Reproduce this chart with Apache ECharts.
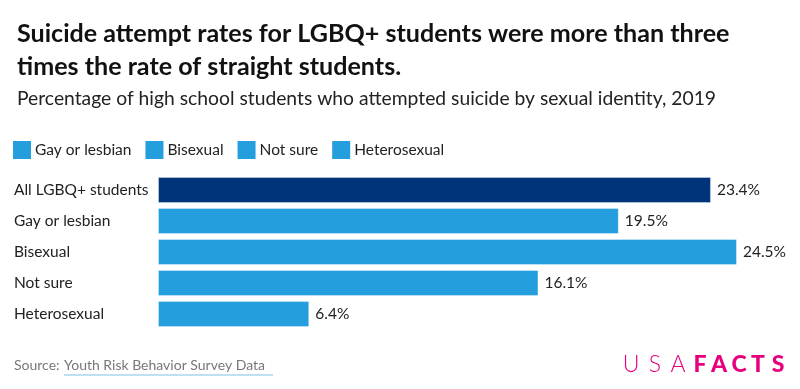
<!DOCTYPE html>
<html><head><meta charset="utf-8">
<script src="https://cdn.jsdelivr.net/npm/echarts@6/dist/echarts.min.js"></script>
<style>html,body{margin:0;padding:0;background:#fff}#c{width:800px;height:389px}</style>
</head><body><div id="c"></div>
<script>
const categories = ["All LGBQ+ students", "Gay or lesbian", "Bisexual", "Not sure", "Heterosexual"];
const values = [23.4, 19.5, 24.5, 16.1, 6.4];
const legendNames = ["Gay or lesbian", "Bisexual", "Not sure", "Heterosexual"];
const titleText = "Suicide attempt rates for LGBQ+ students were more than three\ntimes the rate of straight students.";
const subtitleText = "Percentage of high school students who attempted suicide by sexual identity, 2019";
const FONT = "Lato";
const LIGHT = "#249edc", DARK = "#00337a", PINK = "#e6007e";

const chart = echarts.init(document.getElementById('c'));
const series = [{
  type: 'bar', stack: 'a', name: 'main',
  data: values.map((v, i) => ({value: v, itemStyle: {color: i === 0 ? DARK : LIGHT}})),
  barWidth: 26,
  itemStyle: {borderColor: 'rgba(255,255,255,0.35)', borderWidth: 1},
  label: {show: true, position: 'right', distance: 6, formatter: p => p.value.toFixed(1) + '%',
    fontFamily: FONT, fontSize: 15.5, color: '#222'},
  silent: true
}];
legendNames.forEach(n => series.push({type: 'bar', stack: 'a', name: n, data: [], itemStyle: {color: LIGHT}}));

const logo = [];
[['U',631],['S',655],['A',678]].forEach(([t,x]) => logo.push({type:'text', x:x, y:365,
  style:{text:t, fontFamily:FONT, fontWeight:300, fontSize:23, fill:PINK, align:'center', verticalAlign:'middle'}}));
[['F',700],['A',719],['C',739],['T',758],['S',778]].forEach(([t,x]) => logo.push({type:'text', x:x, y:365,
  style:{text:t, fontFamily:FONT, fontWeight:900, fontSize:23, fill:PINK, align:'center', verticalAlign:'middle'}}));

chart.setOption({
  animation: false,
  title: [
    {text: titleText, left: 12, top: 12, textStyle: {fontFamily: FONT, fontWeight: 'bold', fontSize: 25.1, lineHeight: 33, color: '#111'}},
    {text: subtitleText, left: 12, top: 84, textStyle: {fontFamily: FONT, fontWeight: 'normal', fontSize: 19.3, color: '#222'}}
  ],
  legend: {
    data: legendNames, left: 13, top: 141, padding: 0, icon: 'rect', itemWidth: 18, itemHeight: 18, itemGap: 14,
    textStyle: {fontFamily: FONT, fontSize: 15.5, color: '#222', padding: [0, 0, 0, -1]}, selectedMode: false
  },
  grid: {left: 158, top: 174.5, height: 155, width: 614.4, containLabel: false},
  xAxis: {type: 'value', min: 0, max: 26, show: false},
  yAxis: {type: 'category', data: categories, inverse: true,
    axisLine: {show: false}, axisTick: {show: false},
    axisLabel: {align: 'left', margin: 144, fontFamily: FONT, fontSize: 15.5, color: '#222'}},
  series: series,
  graphic: [
    {type: 'text', left: 14, top: 358, style: {text: 'Source: ', fontFamily: FONT, fontSize: 14, fill: '#777'}},
    {type: 'text', left: 64, top: 358, style: {text: 'Youth Risk Behavior Survey Data', fontFamily: FONT, fontSize: 14, fill: '#777'}},
    {type: 'rect', left: 64, top: 374, shape: {width: 209, height: 2}, style: {fill: '#bfe0f3'}}
  ].concat(logo)
});
</script></body></html>
